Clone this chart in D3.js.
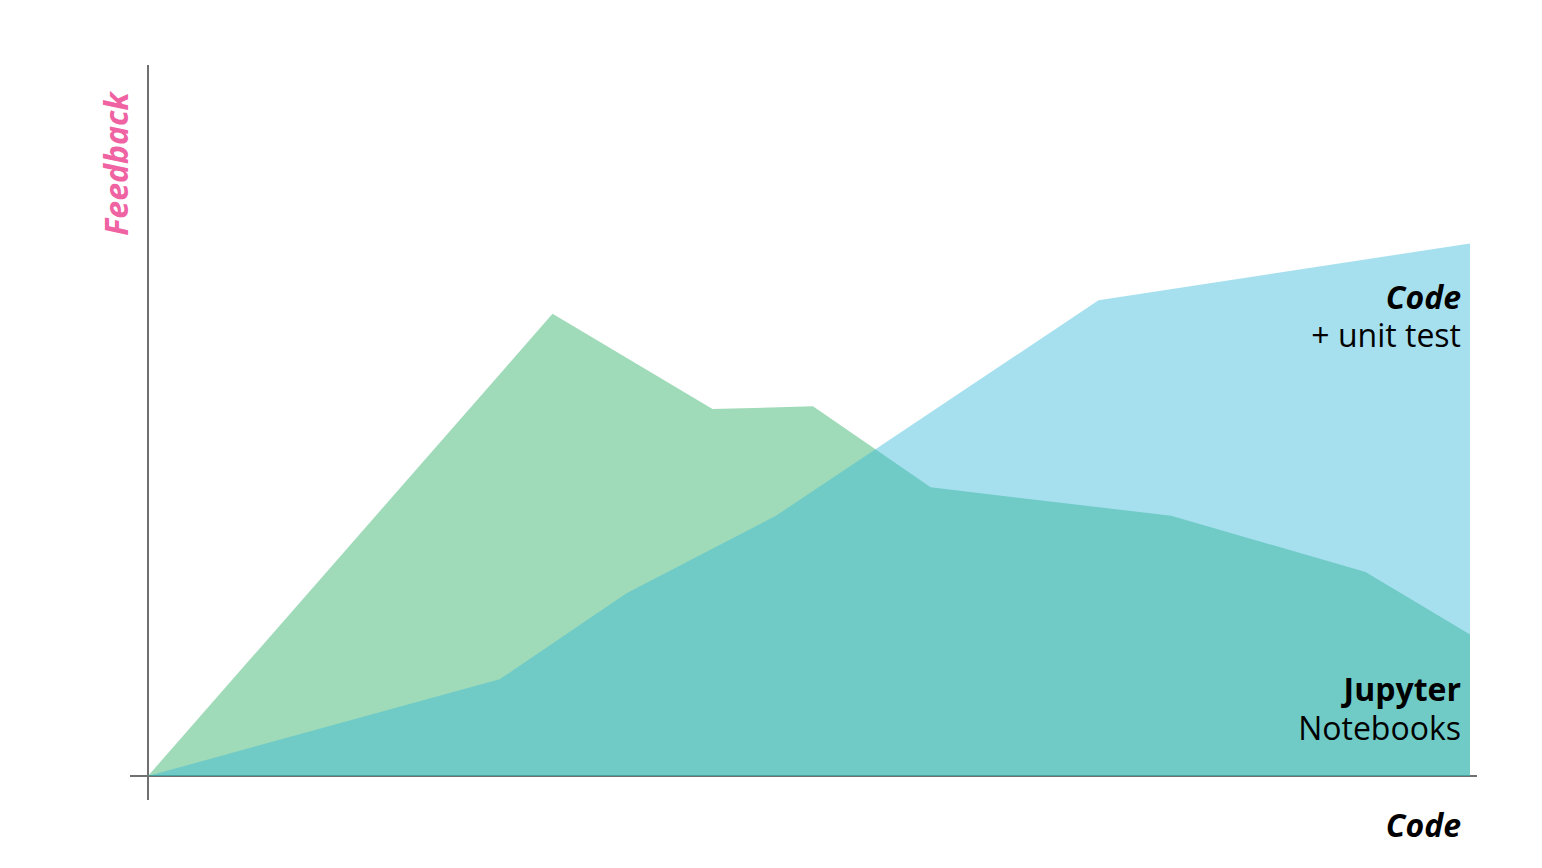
<!DOCTYPE html>
<html>
<head>
<meta charset="utf-8">
<script src="https://cdn.jsdelivr.net/npm/d3@7"></script>
<style>
  body { margin: 0; background: #fff; }
  text { font-family: "Open Sans", sans-serif; }
</style>
</head>
<body>
<div id="chart"></div>
<script>
// chart values (0-100 on both axes)
var notebookX = [0, 30.6, 42.7, 50.3, 59.2, 77.4, 92.1, 100];
var notebookY = [0, 65.0, 51.6, 52.0, 40.6, 36.6, 28.7, 19.9];
var unitTestX = [0, 26.6, 36.2, 47.5, 71.9, 100];
var unitTestY = [0, 13.6, 25.7, 36.6, 66.9, 74.9];

var svgWidth = 1542;
var svgHeight = 868;

var svg = d3.select("#chart")
  .append("svg")
  .attr("width", svgWidth)
  .attr("height", svgHeight);

var x = d3.scaleLinear().domain([0, 100]).range([148, 1470]);
var y = d3.scaleLinear().domain([0, 100]).range([776, 65]);

// axes (drawn first so the areas sit over them)
svg.append("line")
  .attr("x1", x(0)).attr("x2", x(0))
  .attr("y1", y(100)).attr("y2", 800)
  .attr("stroke", "#707070").attr("stroke-width", 2);
svg.append("line")
  .attr("x1", 130).attr("x2", 1477)
  .attr("y1", y(0)).attr("y2", y(0))
  .attr("stroke", "#707070").attr("stroke-width", 2);

var area = d3.area()
  .x(function(d) { return x(d[0]); })
  .y0(y(0))
  .y1(function(d) { return y(d[1]); });

var notebook = d3.zip(notebookX, notebookY);
var unitTest = d3.zip(unitTestX, unitTestY);

svg.append("path")
  .datum(notebook)
  .attr("fill", "#3fb573")
  .attr("fill-opacity", 0.5)
  .attr("d", area);

svg.append("path")
  .datum(unitTest)
  .attr("fill", "#33b8da")
  .attr("fill-opacity", 0.435)
  .attr("d", area);

// labels
svg.append("text")
  .attr("transform", "translate(128,164) rotate(-90)")
  .attr("text-anchor", "middle")
  .attr("font-size", 32)
  .attr("font-weight", "bold")
  .attr("font-style", "italic")
  .attr("fill", "#f063a3")
  .text("Feedback");

svg.append("text")
  .attr("x", 1461).attr("y", 309)
  .attr("text-anchor", "end")
  .attr("font-size", 32)
  .attr("font-weight", "bold")
  .attr("font-style", "italic")
  .text("Code");
svg.append("text")
  .attr("x", 1461).attr("y", 347)
  .attr("text-anchor", "end")
  .attr("font-size", 32)
  .text("+ unit test");

svg.append("text")
  .attr("x", 1461).attr("y", 701)
  .attr("text-anchor", "end")
  .attr("font-size", 32)
  .attr("font-weight", "bold")
  .text("Jupyter");
svg.append("text")
  .attr("x", 1461).attr("y", 740)
  .attr("text-anchor", "end")
  .attr("font-size", 32)
  .text("Notebooks");

svg.append("text")
  .attr("x", 1461).attr("y", 837)
  .attr("text-anchor", "end")
  .attr("font-size", 32)
  .attr("font-weight", "bold")
  .attr("font-style", "italic")
  .text("Code");
</script>
</body>
</html>
